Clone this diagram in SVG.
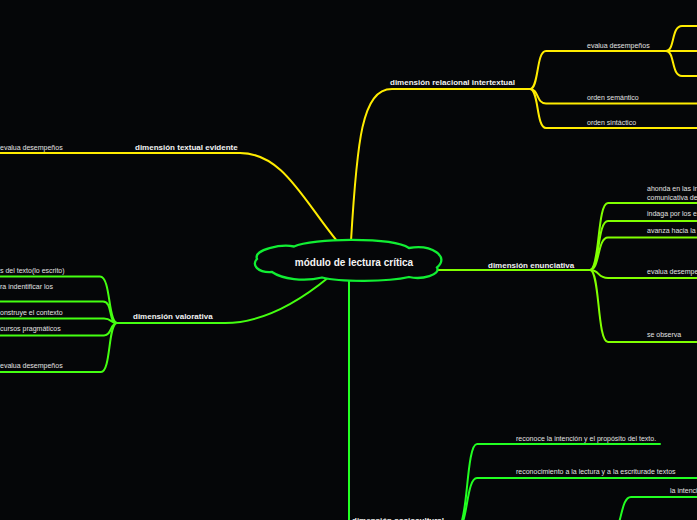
<svg xmlns="http://www.w3.org/2000/svg" width="697" height="520" viewBox="0 0 697 520">
<style>
.b{font-family:"Liberation Sans",Arial,sans-serif;font-weight:bold;font-size:8px;fill:#f2f2f2}
.r{font-family:"Liberation Sans",Arial,sans-serif;font-size:7px;fill:#e2e2e2}
.t{font-family:"Liberation Sans",Arial,sans-serif;font-weight:bold;font-size:10px;fill:#f4f4f4}
.c{fill:none;stroke-width:2;stroke-linecap:round}
.y{stroke:#ffec00}
.l{stroke:#80ff00}
.v{stroke:#44ff11}
.s{stroke:#22ff22}
</style>
<rect width="697" height="520" fill="#050608"/>
<g id="connectors">
  <!-- textual evidente -->
  <path class="c y" d="M337,241 C302,198 282,153 240,153 L0,153"/>
  <!-- relacional intertextual -->
  <path class="c y" d="M351,241 C357,140 362,89 392,89 L530,89"/>
  <path class="c y" d="M530,89 C539,89 536,51 546,51 L667,51"/>
  <path class="c y" d="M666,51 C675,51 671,26 682,26 L697,26"/>
  <path class="c y" d="M666,51 L697,51"/>
  <path class="c y" d="M666,51 C675,51 671,76 682,76 L697,76"/>
  <path class="c y" d="M530,89 C539,89 536,103.5 546,103.5 L697,103.5"/>
  <path class="c y" d="M530,89 C539,89 536,128 546,128 L697,128"/>
  <!-- enunciativa -->
  <path class="c l" d="M437,270 C450,270 460,270 590,270"/>
  <path class="c l" d="M590,270 C600,270 597,203 608,203 L697,203"/>
  <path class="c l" d="M590,270 C600,270 597,221 608,221 L697,221"/>
  <path class="c l" d="M590,270 C600,270 597,237.5 608,237.5 L697,237.5"/>
  <path class="c l" d="M590,270 C600,270 597,278 608,278 L697,278"/>
  <path class="c l" d="M590,270 C600,270 597,342 608,342 L697,342"/>
  <!-- valorativa -->
  <path class="c v" d="M329,277 C295,305 260,323 225,323 L117,323"/>
  <path class="c v" d="M117,323 C108,323 111,276.5 100,276.5 L0,276.5"/>
  <path class="c v" d="M117,323 C108,323 113,301.5 103,301.5 L0,301.5"/>
  <path class="c v" d="M117,323 C110,323 112,318.5 104,318.5 L0,318.5"/>
  <path class="c v" d="M117,323 C110,323 112,335.5 104,335.5 L0,335.5"/>
  <path class="c v" d="M117,323 C108,323 111,372 101,372 L0,372"/>
  <!-- sociocultural -->
  <path class="c s" d="M349,279 L349,527 L458,527"/>
  <path class="c s" d="M458,527 C468,527 466,444 477,444 L660,444"/>
  <path class="c s" d="M458,527 C468,527 466,478 477,478 L697,478"/>
  <path class="c s" d="M612,532 C622,532 620,497 631,497 L697,497"/>
</g>
<g id="central">
  <path d="M257,259 C253,249 282,244 294,246.5 C312,238 392,237 409,248 C432,244 450,257 437,267.5 C441,275 422,280 409,277 C388,282 340,282 322,277.5 C304,282 282,279 272,272 C258,273 251,265 257,259 Z" fill="#050608" stroke="#11ee33" stroke-width="2.3"/>
  <text class="t" x="354" y="266" text-anchor="middle">módulo de lectura crítica</text>
</g>
<g id="textual">
  <text class="b" x="135" y="149.5">dimensión textual evidente</text>
  <text class="r" x="0" y="149.5">evalua desempeños</text>
</g>
<g id="relacional">
  <text class="b" x="390" y="85">dimensión relacional intertextual</text>
  <text class="r" x="587" y="47.5">evalua desempeños</text>
  <text class="r" x="587" y="99.5">orden semántico</text>
  <text class="r" x="587" y="124.5">orden sintáctico</text>
</g>
<g id="enunciativa">
  <text class="b" x="488" y="267.5">dimensión enunciativa</text>
  <text class="r" x="647" y="191">ahonda en las in</text>
  <text class="r" x="647" y="199.5">comunicativa de</text>
  <text class="r" x="647" y="216">indaga por los e</text>
  <text class="r" x="647" y="233">avanza hacia la</text>
  <text class="r" x="647" y="274">evalua desempe</text>
  <text class="r" x="647" y="337">se observa</text>
</g>
<g id="valorativa">
  <text class="b" x="133" y="319">dimensión valorativa</text>
  <text class="r" x="0" y="272.5">s del texto(lo escrito)</text>
  <text class="r" x="0" y="289">ra indentificar los</text>
  <text class="r" x="0" y="314.5">onstruye el contexto</text>
  <text class="r" x="0" y="331">cursos pragmáticos</text>
  <text class="r" x="0" y="367.5">evalua desempeños</text>
</g>
<g id="sociocultural">
  <text class="b" x="352" y="523">dimensión sociocultural</text>
  <text class="r" x="516" y="440.5">reconoce la intención y el propósito del texto.</text>
  <text class="r" x="516" y="474">reconocimiento a la lectura y a la escriturade textos</text>
  <text class="r" x="670" y="493">la intenci</text>
</g>
</svg>
